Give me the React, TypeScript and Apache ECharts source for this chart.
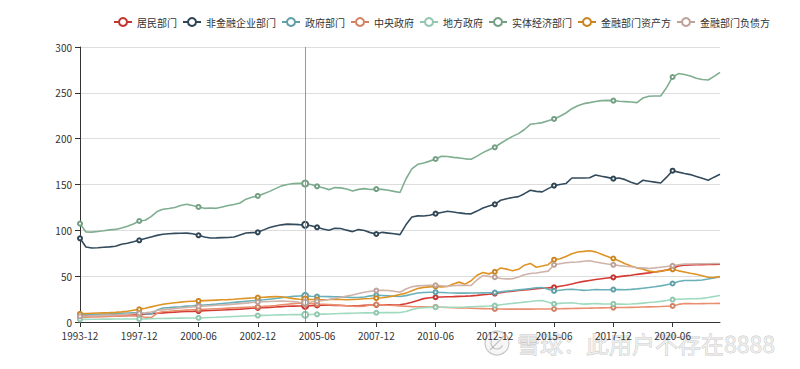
import React, { useEffect, useRef } from "react";
import * as echarts from "echarts";

const buildCategories = (): string[] => {
  const out: string[] = ["1993-12", "1994-12", "1995-12"];
  for (let y = 1996; y <= 2022; y++) {
    for (const m of ["03", "06", "09", "12"]) {
      if (y === 2022 && (m === "09" || m === "12")) continue;
      out.push(`${y}-${m}`);
    }
  }
  return out;
};
const categories = buildCategories();

const seriesNames = ["居民部门", "非金融企业部门", "政府部门", "中央政府", "地方政府", "实体经济部门", "金融部门资产方", "金融部门负债方"];

const household = [6.5,6.8,7,7.1,7.2,7.3,7.5,7.6,7.8,7.9,8.2,8.5,9,9.6,10,10.4,10.8,11.1,11.4,11.6,11.9,12.2,12.5,12.8,13.1,13.4,13.7,14,14.5,15,15.3,15.7,16,16.4,16.8,17.1,17.3,17.5,17.6,17.8,18.1,18.2,18.2,18.1,18,17.8,17.6,17.8,18.3,18.5,18.7,18.8,18.7,18.6,18.9,20,21.5,23.5,25.5,26.5,27,27.3,27.5,27.7,28,28.2,28.5,29,29.8,30.3,31,32,33,33.6,34.3,34.9,35.6,36.2,36.8,37.2,37.8,39,40.1,41.5,43,44.3,45.3,46.3,47.2,48,48.7,49.5,50.3,51,52,52.8,53.6,54.5,55.5,56.8,58.5,61,62,62.3,62.5,62.6,62.7,62.8,63];
const nonFinCorp = [91.3,81.8,80.7,81,81.5,82,82.6,84.8,86,87.5,89.1,91,92.8,94.5,95.7,96.3,96.7,96.9,97,96.2,94.6,92.8,91.7,91.8,92,92.2,92.8,95,97.1,97.5,97.8,100.5,103,104.8,106,106.8,106.5,106.2,106,105,103.3,101.5,100,102.2,102,100.2,98.6,100.8,99.8,97.5,96,97.8,97,96.2,95.3,106,114.5,115.8,115.6,116.5,118.2,119.5,120.8,120,119,118.2,118,121,124.4,126.5,128.4,132.8,134.5,135.8,136.8,140,143.7,142.5,142,145.5,148.8,150,151,157.1,157.1,157.1,157.3,160.4,159,157.8,156.4,157.1,155.3,152.5,150.2,154.6,153.6,152.6,151.6,158,165.1,163.5,162,160.8,158.8,156.7,154.6,158,161.1];
const government = [7.6,8,8.3,8.5,8.8,9,9.3,9.5,9.8,10,10.1,9,8.6,13,15.3,15.7,16.2,16.7,17.3,17.7,18.2,18.6,19,19.5,20.2,20.8,21.4,22,22.6,23.1,23.6,24.2,24.9,25.6,26.6,27.3,28,28.4,28.5,28.1,27.8,27.8,27.7,27.6,27.4,27.1,26.8,26.8,27.2,28.5,29.1,28.9,28.5,28.1,27.9,28.8,30.3,31.6,32.1,32.4,32.5,32.2,31.9,31.7,31.5,31.5,31.6,31.7,31.8,31.9,32.1,32.9,33.7,34.3,35,35.7,36.4,37.3,37.7,35.7,33.9,34.7,35.4,35.8,35.1,34.5,34.9,35.4,35.2,35.1,35.4,35.3,35.2,35.6,36.1,36.9,37.7,38.5,39.4,40.7,42,44.1,45.2,45.3,45.4,45.8,46.9,48.1,49.3];
const centralGov = [5,5.3,5.5,5.6,5.8,6,6.2,6.4,6.6,6.7,6.8,5,4.8,9.5,11.5,11.8,12.2,12.6,13,13.3,13.6,13.9,14.2,14.5,14.8,15.1,15.4,15.7,16,16.3,16.6,17,17.5,18,18.8,19.4,20,20.4,20.5,20,19.5,19.3,19,18.7,18.3,17.8,17.3,17,17.2,18.5,19,18.7,18.3,18,17.6,17.2,16.8,16.6,16.5,16.4,16.4,16.1,15.8,15.6,15.4,15.2,15,14.8,14.6,14.4,14.2,14.1,14,14,14,14,14,14.1,14.2,14.2,14.2,14.4,14.6,14.8,14.9,15,15.1,15.3,15.4,15.5,15.7,15.8,15.9,16,16.1,16.3,16.5,16.7,16.9,17.2,17.5,19.2,20.1,20,19.9,20,20.1,20.2,20.3];
const localGov = [2.8,2.9,3,3,3.1,3.1,3.2,3.2,3.3,3.3,3.3,3.4,3.6,3.8,3.9,4,4.1,4.2,4.3,4.4,4.5,4.7,4.9,5.1,5.4,5.7,6,6.3,6.6,6.8,7,7.2,7.4,7.6,7.8,7.9,8,8,8,8.2,8.4,8.6,8.8,9,9.2,9.4,9.6,9.8,10,10,10.1,10.2,10.2,10.2,10.3,11.5,13.5,15,15.6,16,16.1,16.1,16.1,16.1,16.1,16.3,16.6,16.9,17.2,17.5,17.9,18.8,19.7,20.3,21,21.7,22.4,23.2,23.5,21.5,19.7,20.3,20.8,21,20.2,19.5,19.8,20.1,19.8,19.6,19.7,19.5,19.3,19.6,20,20.6,21.2,21.8,22.5,23.5,24.5,24.9,25.1,25.3,25.5,25.8,26.8,27.9,29];
const realEconomy = [107.3,98.2,98,98.8,99.5,100.5,101,102.5,104.5,107,110.2,111,115,120.5,123,123.8,125,127,128.4,127,125.5,124,124.3,124,125.5,127,128.2,129.8,134,136,137.5,140,142.5,145.5,148.5,150,151,151.2,151.1,150,148,146.5,144.4,146.6,146.3,145,143,144.7,145.5,144.5,145,144.7,143.8,142.5,141.3,156,167,172,173.5,175.5,177.8,180.8,180.5,179.6,179,178,177.5,181,184.8,188,190.6,195,199,202.5,205.5,210,215.7,216.5,217.5,219.5,221.5,224.5,228,232.7,236,238.2,239.3,240.5,241.5,241.8,241.5,240.8,240.4,240,239.3,244.4,246.2,246.5,246.6,256,267.3,271,270,268.3,266,264.6,264,268,272.4];
const finAsset = [9,9.3,9.6,9.8,10,10.2,10.5,11,11.8,12.8,13.8,15,16.5,18,19.3,20.2,21,21.7,22.3,22.7,23,23.3,23.6,23.9,24.2,24.4,24.8,25.3,25.8,26.2,26.6,27,27.4,27.7,27.6,26.5,25.5,24.9,24.6,24.6,24.4,24.3,24.5,25,24.6,24.2,24.6,24.8,25.3,25.6,26,26.5,27.2,28.5,30,31.5,34,36.5,37.8,38.3,38.7,38.3,38.8,41.5,43.5,41.3,45,51,54,52.5,54.7,59,57.7,56,57.5,62,63.9,59.7,61,62.5,68,69,71.5,74.5,76.3,77,77.8,76.5,74,71.5,69.3,66.5,63.5,61,59,57.5,55.5,54.7,55.3,56.5,57.5,55.8,54.5,53.2,52,50.5,48.8,48.6,49.5];
const finLiability = [6.2,6.5,6.8,7,7.2,7.4,7.7,8,8.5,9,9.5,10,11,12.5,13.5,14,14.6,15.2,15.8,16.4,17,17.4,17.8,18.2,18.6,19,19.5,20,20.6,21.2,21.8,22.1,22.4,22.7,22.9,22.7,22.2,21.6,21.2,21.8,22.6,23.5,24.5,25.8,27,28.2,29.5,31,32.5,33.5,34.3,34.7,34.3,33.5,32.5,36,38.5,39.4,39.8,40,40.1,39.5,39,39.6,40.1,40,39.8,46,50.7,49.8,48.9,47.5,47,47.1,49,51.5,52.9,53.5,54.5,55.5,62.4,63.5,64.6,65.2,65.5,66.2,66.8,65.5,64.3,63.3,62.4,61.5,60.8,60.2,59.5,59,58.4,59,59.8,60.6,61.3,62.5,63.1,63.3,63.4,63.5,63.6,63.8,63.9];

const seriesData = [household, nonFinCorp, government, centralGov, localGov, realEconomy, finAsset, finLiability];
const colors = ["#c23531", "#2f4554", "#61a0a8", "#d48265", "#91c7ae", "#749f83", "#ca8622", "#bda29a"];
const yTicks = { min: 0, max: 300, interval: 50 };
const hoverIndex = 38;
const watermark = "雪球：此用户不存在8888";

const FONT = "'Noto Sans CJK SC', 'Noto Sans', sans-serif";

export default function App() {
  const ref = useRef<HTMLDivElement>(null);
  useEffect(() => {
    document.body.style.margin = "0";
    if (!ref.current) return;
    const chart = echarts.init(ref.current, undefined, { renderer: "svg" });
    const wmStroke = "rgba(165,165,165,0.6)";
    chart.setOption({
      animation: false,
      color: colors,
      textStyle: { fontFamily: FONT },
      legend: {
        data: seriesNames,
        top: 12,
        right: 25,
        itemWidth: 18,
        itemHeight: 10,
        itemGap: 5,
        textStyle: { fontSize: 10, color: "#333", fontFamily: FONT },
      },
      tooltip: {
        trigger: "axis",
        showContent: false,
        axisPointer: { type: "line", lineStyle: { color: "#999", width: 1, type: "solid" } },
      },
      grid: { left: 80, right: 80, top: 47, bottom: 47 },
      xAxis: {
        type: "category",
        data: categories,
        boundaryGap: false,
        axisLine: { lineStyle: { color: "#333" } },
        axisTick: { interval: 9, lineStyle: { color: "#333" } },
        axisLabel: { interval: 9, fontSize: 10, color: "#333", fontFamily: FONT },
      },
      yAxis: {
        type: "value",
        min: yTicks.min,
        max: yTicks.max,
        interval: yTicks.interval,
        axisLine: { show: true, lineStyle: { color: "#333" } },
        axisTick: { show: true, lineStyle: { color: "#333" } },
        axisLabel: { fontSize: 10, color: "#333", fontFamily: FONT },
        splitLine: { lineStyle: { color: "#ddd" } },
      },
      graphic: [
        {
          type: "group",
          silent: true,
          z: 100,
          children: [
            { type: "circle", shape: { cx: 497, cy: 343, r: 12 }, style: { fill: "rgba(240,240,240,0.6)", stroke: wmStroke, lineWidth: 1.2 } },
            { type: "arc", shape: { cx: 497, cy: 343, r: 6, startAngle: 0.4, endAngle: 3.6 }, style: { fill: "none", stroke: wmStroke, lineWidth: 1.2 } },
            { type: "line", shape: { x1: 490, y1: 350, x2: 504, y2: 336 }, style: { stroke: wmStroke, lineWidth: 1.2 } },
            {
              type: "text",
              x: 517,
              y: 343,
              style: {
                text: watermark,
                fontSize: 23,
                fontFamily: FONT,
                fill: "rgba(238,238,238,0.75)",
                stroke: wmStroke,
                lineWidth: 0.8,
                verticalAlign: "middle",
                align: "left",
              },
            },
          ],
        },
      ],
      series: seriesNames.map((name, i) => ({
        name,
        type: "line",
        data: seriesData[i],
        symbol: "emptyCircle",
        symbolSize: 4,
        itemStyle: { borderWidth: 1 },
        lineStyle: { width: 1.6 },
      })),
    });
    chart.dispatchAction({ type: "showTip", seriesIndex: 0, dataIndex: hoverIndex });
    return () => chart.dispose();
  }, []);
  return <div ref={ref} style={{ width: 800, height: 369 }} />;
}
